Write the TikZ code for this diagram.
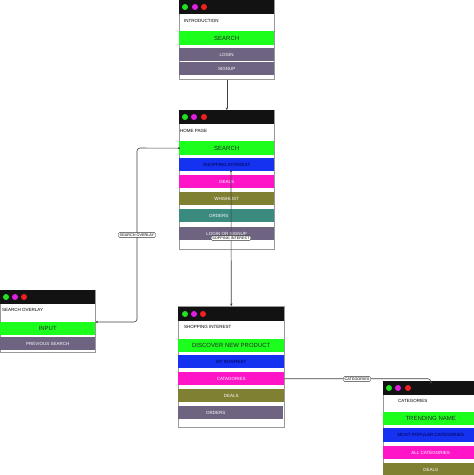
\documentclass[tikz,border=0pt]{standalone}
\usepackage{fontspec}
\setmainfont{Liberation Sans}
\usetikzlibrary{arrows.meta}
\definecolor{cgreen}{HTML}{1CFF1C}
\definecolor{cblue}{HTML}{1432F0}
\definecolor{cmag}{HTML}{FF14C8}
\definecolor{colive}{HTML}{808032}
\definecolor{cteal}{HTML}{3A8A80}
\definecolor{cpurp}{HTML}{6E6482}
\definecolor{dgreen}{HTML}{22E022}
\definecolor{dmag}{HTML}{E020E0}
\definecolor{dred}{HTML}{F02020}
\tikzset{
  frame/.style={draw=black!40, fill=white, line width=0.6pt, inner sep=0pt, anchor=north west},
  bar/.style={fill=black!93, inner sep=0pt, anchor=north west, minimum height=14pt},
  dot/.style={circle, inner sep=0pt, minimum size=6pt},
  title/.style={anchor=west, inner sep=0pt, font=\fontsize{4.5}{5}\selectfont},
  row/.style={inner sep=0pt, anchor=north west, minimum height=13pt, font=\fontsize{4.5}{5}\selectfont, text=white},
  greenrow/.style={row, fill=cgreen, text=black!85, font=\fontsize{6}{7}\selectfont},
  bluerow/.style={row, fill=cblue, text=blue!25!black},
  magrow/.style={row, fill=cmag},
  oliverow/.style={row, fill=colive},
  tealrow/.style={row, fill=cteal},
  purprow/.style={row, fill=cpurp},
  conn/.style={draw=black!75, line width=0.6pt, rounded corners=3pt, -{Stealth[length=2.5pt,width=2.5pt]}},
  elabel/.style={draw=black!80, fill=white, rounded corners=1pt, inner xsep=1.2pt, inner ysep=1pt, line width=0.4pt, font=\fontsize{3.8}{4.5}\selectfont},
}
\begin{document}
\begin{tikzpicture}[x=1pt, y=-1pt]
\useasboundingbox (0,0) rectangle (474,475);
\clip (0,0) rectangle (474,475);
% ---------- Introduction ----------
\node[frame, minimum width=95pt, minimum height=79pt] (intro) at (179,0) {};
\node[bar, minimum width=95pt] (ibar) at (179,0) {};
\node[dot, fill=dgreen] (id1) at (185,7) {};
\node[dot, fill=dmag] (id2) at (195,7) {};
\node[dot, fill=dred] (id3) at (204,7) {};
\node[title] (ititle) at (184,21) {INTRODUCTION};
\node[greenrow, minimum width=95pt, minimum height=14pt] (isearch) at (179,31) {SEARCH};
\node[purprow, minimum width=95pt] (ilogin) at (179,48) {LOGIN};
\node[purprow, minimum width=95pt] (isignup) at (179,62) {SIGNUP};
% ---------- Home page ----------
\node[frame, minimum width=95pt, minimum height=139pt] (home) at (179,110) {};
\node[bar, minimum width=95pt] (hbar) at (179,110) {};
\node[dot, fill=dgreen] (hd1) at (185,117) {};
\node[dot, fill=dmag] (hd2) at (194,117) {};
\node[dot, fill=dred] (hd3) at (204,117) {};
\node[title] (htitle) at (180,131) {HOME PAGE};
\node[greenrow, minimum width=95pt, minimum height=14pt] (hsearch) at (179,141) {SEARCH};
\node[bluerow, minimum width=95pt] (hshop) at (179,158) {SHOPPING INTEREST};
\node[magrow, minimum width=95pt] (hdeal) at (179,175) {DEALS};
\node[oliverow, minimum width=95pt] (hwish) at (179,192) {WHISHLIST};
\node[tealrow, minimum width=95pt] (hord) at (179,209) {\hspace*{-16pt}ORDERS};
\node[purprow, minimum width=95pt] (hlog) at (179,227) {LOGIN OR SIGNUP};
% ---------- Search overlay ----------
\node[frame, minimum width=95pt, minimum height=62pt] (so) at (0,290) {};
\node[bar, minimum width=95pt] (sobar) at (0,290) {};
\node[dot, fill=dgreen] (sd1) at (6,297) {};
\node[dot, fill=dmag] (sd2) at (15,297) {};
\node[dot, fill=dred] (sd3) at (24,297) {};
\node[title] (sotitle) at (2,310) {SEARCH OVERLAY};
\node[greenrow, minimum width=95pt] (soinput) at (0,322) {INPUT};
\node[purprow, minimum width=95pt] (soprev) at (0,337) {PREVIOUS SEARCH};
% ---------- Shopping interest ----------
\node[frame, minimum width=106pt, minimum height=121pt] (si) at (178,306) {};
\node[bar, minimum width=106pt] (sibar) at (178,307) {};
\node[dot, fill=dgreen] (sid1) at (185,314) {};
\node[dot, fill=dmag] (sid2) at (194,314) {};
\node[dot, fill=dred] (sid3) at (203,314) {};
\node[title] (sititle) at (184,327) {SHOPPING INTEREST};
\node[greenrow, minimum width=106pt] (sidisc) at (178,339) {DISCOVER NEW PRODUCT};
\node[bluerow, minimum width=106pt] (simy) at (178,355) {MY INTEREST};
\node[magrow, minimum width=106pt] (sicat) at (178,372) {CATAGORIES};
\node[oliverow, minimum width=106pt] (sideal) at (178,389) {DEALS};
\node[purprow, minimum width=105pt] (siord) at (178,406) {\hspace*{-30pt}ORDERS};
% ---------- Categories ----------
\node[frame, minimum width=95pt, minimum height=100pt] (cat) at (383,381) {};
\node[bar, minimum width=95pt] (cbar) at (383,381) {};
\node[dot, fill=dgreen] (cd1) at (389,388) {};
\node[dot, fill=dmag] (cd2) at (398,388) {};
\node[dot, fill=dred] (cd3) at (408,388) {};
\node[title] (ctitle) at (398,401) {CATEGORIES};
\node[greenrow, minimum width=95pt] (ctrend) at (383,412) {TRENDING NAME};
\node[bluerow, minimum width=95pt, minimum height=14pt] (cpop) at (383,428) {MOST POPULAR CATEGORIES};
\node[magrow, minimum width=95pt] (call) at (383,446) {ALL CATEGORIES};
\node[oliverow, minimum width=95pt] (cdeal) at (383,463) {DEALS};
% ---------- Connectors ----------
\draw[conn] (intro.south) -- (home.north);
\fill[black!80] (hsearch.west) circle (1pt);
\draw[conn] (hsearch.west) -- (137,148) -- (137,322) -- (soinput.north east);
\node[elabel] (l1) at (137,235) {SEARCH OVERLAY};
\coordinate (hs) at (231,171);
\fill[black!80] (hs) circle (1pt);
\draw[conn] (hs) -- (si.north);
\node[elabel] (l2) at (231,238) {SOPPING INTEREST};
\draw[conn] (sicat.east) -- (cat.north |- sicat.east) -- (cat.north);
\node[elabel] (l3) at (357,379) {CATEGORIES};
\end{tikzpicture}
\end{document}
